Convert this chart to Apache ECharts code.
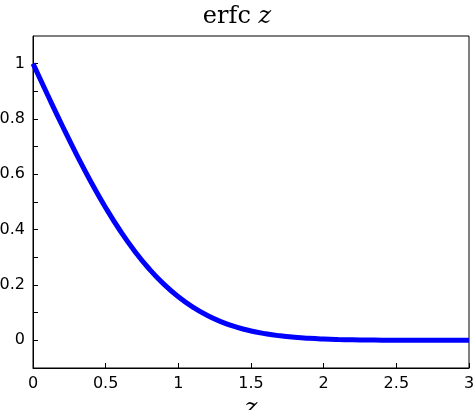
<!DOCTYPE html>
<html>
<head>
<meta charset="utf-8">
<script src="https://cdn.jsdelivr.net/npm/echarts@6/dist/echarts.min.js"></script>
<style>html,body{margin:0;padding:0;background:#fff}#chart{width:474px;height:410px}</style>
</head>
<body>
<div id="chart"></div>
<script>
// z samples and erfc values
var zValues = [0, 0.1, 0.2, 0.3, 0.4, 0.5, 0.6, 0.7, 0.8, 0.9, 1.0, 1.1, 1.2, 1.3, 1.4, 1.5,
               1.6, 1.7, 1.8, 1.9, 2.0, 2.1, 2.2, 2.3, 2.4, 2.5, 2.6, 2.7, 2.8, 2.9, 3.0];
var erfcValues = [1, 0.8875, 0.7773, 0.6714, 0.5716, 0.4795, 0.3961, 0.3222, 0.2579, 0.2031,
                  0.1573, 0.1198, 0.0897, 0.0660, 0.0477, 0.0339, 0.0237, 0.0162, 0.0109, 0.0072,
                  0.0047, 0.0030, 0.0019, 0.0011, 0.0007, 0.0004, 0.0002, 0.0001, 0.0001, 0, 0];

var points = zValues.map(function (z, i) { return [z, erfcValues[i]]; });

var chart = echarts.init(document.getElementById('chart'));
var tickFont = { color: '#000', fontSize: 16, fontFamily: 'DejaVu Sans' };
var frame = { show: true, onZero: false, lineStyle: { color: '#000', width: 1 } };

// only even tenths get a tick and label on y
function evenTenth(v) {
    var t = Math.round(v * 10);
    return Math.abs(v * 10 - t) < 1e-6 && t % 2 === 0;
}

chart.setOption({
    animation: false,
    title: {
        text: '{r|erfc }{i|z}',
        left: 'center', top: 0,
        textStyle: {
            fontWeight: 'normal',
            rich: {
                r: { fontFamily: 'DejaVu Serif', fontSize: 24, fontWeight: 'normal', color: '#000' },
                i: { fontFamily: 'DejaVu Serif', fontStyle: 'italic', fontSize: 24, fontWeight: 'normal', color: '#000' }
            }
        }
    },
    grid: { left: 33, right: 5, top: 36, bottom: 42, outerBoundsMode: 'none', containLabel: false,
            show: true, borderColor: '#000', borderWidth: 1 },
    xAxis: {
        type: 'value', min: 0, max: 3, interval: 0.5,
        name: 'z', nameLocation: 'middle', nameGap: 24,
        nameTextStyle: { fontFamily: 'DejaVu Serif', fontStyle: 'italic', fontSize: 24, color: '#000' },
        axisLine: frame,
        axisTick: { inside: true, length: 5, lineStyle: { color: '#000' } },
        axisLabel: tickFont, splitLine: { show: false }
    },
    yAxis: {
        type: 'value', min: -0.1, max: 1.1, interval: 0.1,
        axisLine: frame,
        axisTick: { inside: true, length: 5, lineStyle: { color: '#000' },
                    interval: function (i, v) { return evenTenth(+v); } },
        axisLabel: Object.assign({
            showMinLabel: false, showMaxLabel: false,
            formatter: function (v) { return evenTenth(v) ? String(+v.toFixed(1)) : ''; }
        }, tickFont),
        splitLine: { show: false }
    },
    series: [{
        type: 'line', data: points, smooth: true, showSymbol: false,
        lineStyle: { color: '#0000ff', width: 5 }
    }]
});
</script>
</body>
</html>
